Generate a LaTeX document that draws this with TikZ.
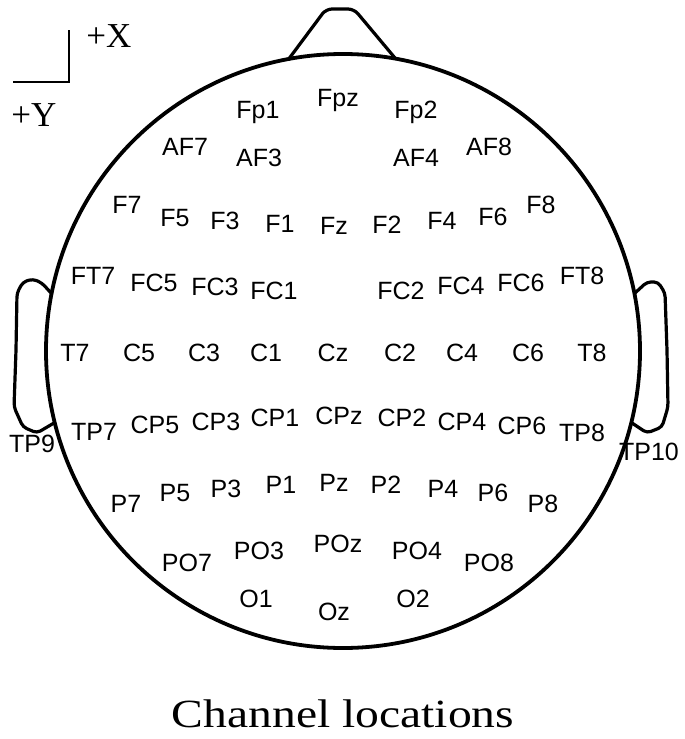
\documentclass[tikz,border=0pt]{standalone}
\usepackage{fontspec}
\setmainfont{Liberation Serif}
\newfontfamily\elfont{Liberation Sans}
\begin{document}
\begin{tikzpicture}[x=1pt,y=-1pt,
  headline/.style={line width=3.8pt},
  earline/.style={line width=3.2pt, rounded corners=4pt, line join=round},
  axisline/.style={line width=2.2pt},
  elec/.style={font=\elfont\fontsize{25}{25}\selectfont, anchor=base, inner sep=0pt},
  axlabel/.style={font=\fontsize{35}{35}\selectfont, anchor=base, inner sep=0pt}]
\useasboundingbox (0,0) rectangle (685,739);
% head
\draw[headline] (343,351) circle[radius=297pt];
% nose
\draw[earline, rounded corners=6pt] (288,60) -- (326,9) -- (354,9) -- (395,58);
% ears
\draw[earline] (51,293) -- (42,283) -- (33,279) -- (23,282) -- (17,293) -- (16,350) -- (14,407) -- (23,427) -- (37,433) -- (54,423);
\draw[earline] (635,293) -- (647,282) -- (658,282) -- (665,293) -- (667,350) -- (668,407) -- (662,427) -- (647,433) -- (632,423);
% axes
\coordinate (axtop) at (69,30);
\coordinate (axcorner) at (69,82);
\coordinate (axleft) at (13,82);
\draw[axisline] (axtop) -- (axcorner) -- (axleft);
\node[axlabel] (plusx) at (109,47) {+X};
\node[axlabel] (plusy) at (34,126) {+Y};
% electrodes
\foreach \n/\px/\py in {
  Fp1/258/109, Fpz/338/97, Fp2/416/109,
  AF7/185/146, AF3/259/157, AF4/416/157, AF8/489/146,
  F7/127/204, F5/175/217, F3/225/220, F1/280/223, Fz/334/225, F2/387/224, F4/442/220, F6/493/216, F8/541/204,
  FT7/93/275, FC5/154/282, FC3/215/286, FC1/274/290, FC2/401/290, FC4/461/285, FC6/521/282, FT8/582/275,
  T7/75/352, C5/139/352, C3/204/352, C1/266/352, Cz/333/352, C2/400/352, C4/462/352, C6/528/352, T8/592/352,
  TP9/32/443, TP7/94/431, CP5/155/424, CP3/216/421, CP1/275/417, CPz/339/415, CP2/402/417, CP4/462/421, CP6/522/425, TP8/582/432, TP10/649/451,
  P7/126/503, P5/175/492, P3/226/488, P1/281/484, Pz/334/482, P2/386/484, P4/443/488, P6/493/492, P8/543/503,
  PO7/187/562, PO3/259/550, POz/338/543, PO4/417/550, PO8/489/562,
  O1/256/598, Oz/334/611, O2/413/598}
  \node[elec] (\n) at (\px,\py+9) {\n};
% caption
\node[font=\fontsize{40}{40}\selectfont, anchor=base, inner sep=0pt] (caption) at (343,727) {\scalebox{1.19}[1]{Channel locations}};
\end{tikzpicture}
\end{document}
